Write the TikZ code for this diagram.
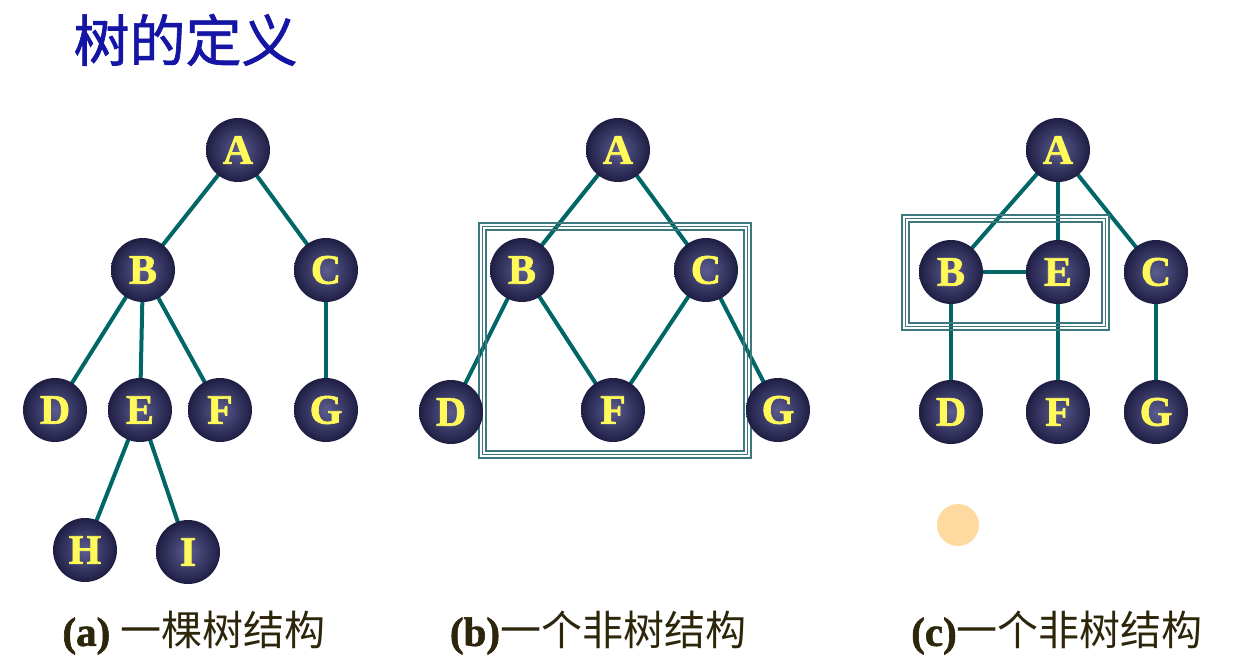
\documentclass[tikz,border=0pt]{standalone}
\usepackage{fontspec}
\setmainfont{Liberation Serif}
\newfontfamily\lbold{Liberation Serif Bold}[FakeBold=1.5]
\newfontfamily\cjk{Noto Sans CJK SC}
\newfontfamily\cjkt{Noto Sans CJK SC}[FakeBold=1.2]
\usetikzlibrary{backgrounds}
\definecolor{edgec}{RGB}{0,102,102}
\definecolor{ballin}{RGB}{92,92,145}
\definecolor{ballout}{RGB}{30,30,68}
\definecolor{lettc}{RGB}{255,250,90}
\definecolor{titlec}{RGB}{20,20,165}
\definecolor{capc}{RGB}{45,38,10}
\definecolor{boxc}{RGB}{60,120,125}
\definecolor{hlc}{RGB}{255,218,160}
\begin{document}
\begin{tikzpicture}[x=1pt,y=-1pt,
  tn/.style={circle,minimum size=64pt,inner sep=0pt,inner color=ballin,outer color=ballout,
    text=lettc,font=\lbold\fontsize{42}{42}\selectfont},
  tedge/.style={draw=edgec,line width=4pt},
  capt/.style={text=capc,font=\fontsize{41}{43}\selectfont,anchor=center},
  bline/.style={draw=boxc,line width=1.8pt}]
\useasboundingbox (0,0) rectangle (1245,667);
% title
\node[anchor=west,text=titlec,font=\cjkt\fontsize{56}{58}\selectfont] (title) at (70,40) {树的定义};
% (a)
\node[tn] (aA) at (238,150) {A};
\node[tn] (aB) at (143,270) {B};
\node[tn] (aC) at (326,270) {C};
\node[tn] (aD) at (55,410) {D};
\node[tn] (aE) at (140,410) {E};
\node[tn] (aF) at (220,410) {F};
\node[tn] (aG) at (326,410) {G};
\node[tn] (aH) at (85,550) {H};
\node[tn] (aI) at (188,552) {I};
% (b)
\node[tn] (bA) at (618,150) {A};
\node[tn] (bB) at (522,270) {B};
\node[tn] (bC) at (706,270) {C};
\node[tn] (bD) at (451,412) {D};
\node[tn] (bF) at (613,410) {F};
\node[tn] (bG) at (778,410) {G};
% (c)
\node[tn] (cA) at (1058,150) {A};
\node[tn] (cB) at (951,272) {B};
\node[tn] (cE) at (1058,272) {E};
\node[tn] (cC) at (1156,272) {C};
\node[tn] (cD) at (951,412) {D};
\node[tn] (cF) at (1058,412) {F};
\node[tn] (cG) at (1156,412) {G};
% edges
\begin{scope}[on background layer]
\draw[tedge] (aA.center) -- (aB.center); \draw[tedge] (aA.center) -- (aC.center);
\draw[tedge] (aB.center) -- (aD.center); \draw[tedge] (aB.center) -- (aE.center); \draw[tedge] (aB.center) -- (aF.center);
\draw[tedge] (aC.center) -- (aG.center);
\draw[tedge] (aE.center) -- (aH.center); \draw[tedge] (aE.center) -- (aI.center);
\draw[tedge] (bA.center) -- (bB.center); \draw[tedge] (bA.center) -- (bC.center);
\draw[tedge] (bB.center) -- (bD.center); \draw[tedge] (bB.center) -- (bF.center);
\draw[tedge] (bC.center) -- (bF.center); \draw[tedge] (bC.center) -- (bG.center);
\draw[tedge] (cA.center) -- (cB.center); \draw[tedge] (cA.center) -- (cE.center); \draw[tedge] (cA.center) -- (cC.center);
\draw[tedge] (cB.center) -- (cE.center);
\draw[tedge] (cB.center) -- (cD.center); \draw[tedge] (cE.center) -- (cF.center); \draw[tedge] (cC.center) -- (cG.center);
% boxes
\foreach \d in {0,3.5,7} {
  \draw[bline] (479+\d,223+\d) rectangle (751-\d,458-\d);
  \draw[bline] (902+\d,215+\d) rectangle (1109-\d,330-\d);
}
\end{scope}
% captions
\node[capt] (capa) at (194,633) {{\lbold (a)} {\cjk 一棵树结构}};
\node[capt] (capb) at (598,633) {{\lbold (b)}{\cjk 一个非树结构}};
\node[capt] (capc) at (1057,633) {{\lbold (c)}{\cjk 一个非树结构}};
% cursor highlight
\fill[hlc] (958,525) circle (21pt);
\end{tikzpicture}
\end{document}
